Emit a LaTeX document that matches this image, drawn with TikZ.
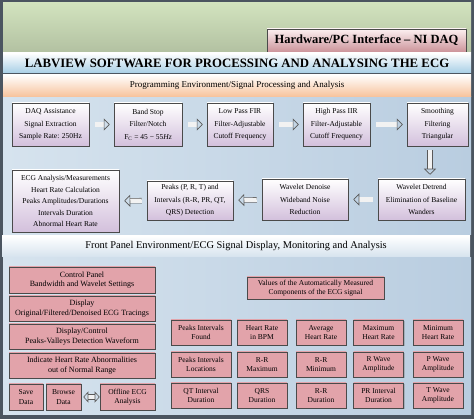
\documentclass[tikz,border=0pt]{standalone}
\usepackage{fontspec}
\setmainfont{Liberation Serif}
\usetikzlibrary{arrows.meta,shadows,calc}
\definecolor{framegray}{HTML}{4B5560}
\definecolor{leafa}{HTML}{D2E3BE}
\definecolor{leafb}{HTML}{EEF4E6}
\definecolor{skyband}{HTML}{A8CFE6}
\definecolor{peach}{HTML}{F7C39C}
\definecolor{steel}{HTML}{D6E3EE}
\definecolor{steeldark}{HTML}{B9CDE0}
\definecolor{lilac}{HTML}{D3C0DC}
\definecolor{rosy}{HTML}{E2A3AA}
\definecolor{rosylight}{HTML}{FCF0F1}
\definecolor{boxline}{HTML}{4A4A4A}
\begin{document}
\begin{tikzpicture}[x=1pt,y=-1pt,
  band/.style={minimum width=468pt,inner sep=0pt,font=\fontsize{9}{11}\selectfont},
  procbox/.style={draw=boxline,line width=0.5pt,top color=white,bottom color=lilac,align=center,inner sep=1pt,
    font=\fontsize{7.5}{12.5}\selectfont,drop shadow={shadow xshift=1.2pt,shadow yshift=-1.2pt,opacity=0.45}},
  pinkbox/.style={draw=boxline,line width=0.6pt,top color=rosy,middle color=rosylight,bottom color=rosy,align=center,inner sep=1pt,
    font=\fontsize{7.5}{9.5}\selectfont,drop shadow={shadow xshift=1pt,shadow yshift=-1pt,opacity=0.4}},
  gridbox/.style={pinkbox,minimum width=50pt,minimum height=25pt},
  flow/.style={draw=gray!70!black,line width=0.6pt,double=gray!10,double distance=4.2pt,
    -{Triangle[open,length=6pt,width=12pt]}},
  twoway/.style={flow,{Triangle[open,length=5pt,width=11pt]}-{Triangle[open,length=5pt,width=11pt]}}]
\useasboundingbox (0,0) rectangle (474,419);
\fill[framegray] (0,0) rectangle (474,419);
\shade[top color=leafa,middle color=leafb,bottom color=leafa!85!black] (3,3) rectangle (471,52);
\shade[left color=steel,right color=steeldark] (3,97) rectangle (471,235);
\shade[left color=steel,right color=steeldark] (3,258) rectangle (471,415);

\node[draw=boxline,line width=0.8pt,top color=rosylight,bottom color=rosy!90!black,minimum width=199pt,minimum height=23pt,inner sep=0pt,
  font=\fontsize{12.5}{14}\selectfont\bfseries] (hw) at (366.5,40.5) {Hardware/PC Interface -- NI DAQ};
\node[band,top color=white,bottom color=skyband,minimum height=20pt,font=\fontsize{12.8}{14}\selectfont\bfseries] (title) at (237,63) {LABVIEW SOFTWARE FOR PROCESSING AND ANALYSING THE ECG};
\node[band,top color=white,bottom color=peach,minimum height=22pt] (prog) at (237,85.5) {Programming Environment/Signal Processing and Analysis};
\node[band,top color=white,bottom color=steel,minimum height=21pt,font=\fontsize{10.4}{12}\selectfont] (front) at (236,246.5) {Front Panel Environment/ECG Signal Display, Monitoring and Analysis};

% processing chain
\node[procbox,minimum width=77pt,minimum height=43pt] (daq) at (50.5,124.5) {DAQ Assistance\\Signal Extraction\\Sample Rate: 250Hz};
\node[procbox,minimum width=68pt,minimum height=43pt] (notch) at (148,124.5) {Band Stop\\Filter/Notch\\F\textsubscript{C} = 45 − 55\textit{Hz}};
\node[procbox,minimum width=66pt,minimum height=43pt] (fir) at (240,124.5) {Low Pass FIR\\Filter-Adjustable\\Cutoff Frequency};
\node[procbox,minimum width=67pt,minimum height=43pt] (iir) at (336.5,124.5) {High Pass IIR\\Filter-Adjustable\\Cutoff Frequency};
\node[procbox,minimum width=61pt,minimum height=43pt] (smooth) at (437.5,124.5) {Smoothing\\Filtering\\Triangular};
\node[procbox,minimum width=87pt,minimum height=41pt] (detrend) at (421.5,199.5) {Wavelet Detrend\\Elimination of Baseline\\Wanders};
\node[procbox,minimum width=86pt,minimum height=41pt] (denoise) at (305,199.5) {Wavelet Denoise\\Wideband Noise\\Reduction};
\node[procbox,minimum width=86pt,minimum height=39pt] (peaks) at (190,200.5) {Peaks (P, R, T) and\\Intervals (R-R, PR, QT,\\QRS) Detection};
\node[procbox,minimum width=107pt,minimum height=62pt,font=\fontsize{7.5}{11.5}\selectfont] (ecg) at (65.5,201) {ECG Analysis/Measurements\\Heart Rate Calculation\\Peaks Amplitudes/Durations\\Intervals Duration\\Abnormal Heart Rate};
\coordinate (drop) at (430,0);

\draw[flow,shorten <=6pt,shorten >=4pt] (daq) -- (notch);
\draw[flow,shorten <=6pt,shorten >=4pt] (notch) -- (fir);
\draw[flow,shorten <=6pt,shorten >=4pt] (fir) -- (iir);
\draw[flow,shorten <=6pt,shorten >=4pt] (iir) -- (smooth);
\draw[flow,shorten <=4pt,shorten >=4pt] (smooth.south -| drop) -- (detrend.north -| drop);
\draw[flow,shorten <=5pt,shorten >=5pt] (detrend) -- (denoise);
\draw[flow,shorten <=5pt,shorten >=5pt] (denoise) -- (peaks);
\draw[flow,shorten <=5pt,shorten >=5pt] (peaks) -- (ecg);

% front panel
\node[pinkbox,minimum width=146pt,minimum height=26pt,font=\fontsize{8}{9.5}\selectfont] (ctrl) at (82,280) {Control Panel\\Bandwidth and Wavelet Settings};
\node[pinkbox,minimum width=146pt,minimum height=25pt,font=\fontsize{8}{9.5}\selectfont] (disp) at (82,308.5) {Display\\Original/Filtered/Denoised ECG Tracings};
\node[pinkbox,minimum width=146pt,minimum height=25pt,font=\fontsize{8}{9.5}\selectfont] (dctrl) at (82,336.5) {Display/Control\\Peaks-Valleys Detection Waveform};
\node[pinkbox,minimum width=146pt,minimum height=25pt,font=\fontsize{8}{9.5}\selectfont] (abn) at (82,365.5) {Indicate Heart Rate Abnormalities\\out of Normal Range};
\node[pinkbox,minimum width=34pt,minimum height=26pt] (save) at (26,397) {Save\\Data};
\node[pinkbox,minimum width=35pt,minimum height=26pt] (browse) at (63.5,397) {Browse\\Data};
\node[pinkbox,minimum width=55pt,minimum height=26pt] (offline) at (127.5,397) {Offline ECG\\Analysis};
\draw[twoway,shorten <=2pt,shorten >=0pt] (browse) -- (offline);

\node[pinkbox,minimum width=137pt,minimum height=22pt] (values) at (315.5,288) {Values of the Automatically Measured\\Components of the ECG signal};

\node[gridbox,minimum width=60pt] (pif) at (201,332.5) {Peaks Intervals\\Found};
\node[gridbox] (bpm) at (262,332.5) {Heart Rate\\in BPM};
\node[gridbox] (avg) at (321,332.5) {Average\\Heart Rate};
\node[gridbox] (max) at (378.5,332.5) {Maximum\\Heart Rate};
\node[gridbox] (min) at (438,332.5) {Minimum\\Heart Rate};
\node[gridbox,minimum width=60pt] (pil) at (201,364.5) {Peaks Intervals\\Locations};
\node[gridbox] (rrmax) at (262,364.5) {R-R\\Maximum};
\node[gridbox] (rrmin) at (321,364.5) {R-R\\Minimum};
\node[gridbox] (ramp) at (378.5,364.5) {R Wave\\Amplitude};
\node[gridbox] (pamp) at (438,364.5) {P Wave\\Amplitude};
\node[gridbox,minimum width=60pt] (qt) at (201,395.5) {QT Interval\\Duration};
\node[gridbox] (qrs) at (262,395.5) {QRS\\Duration};
\node[gridbox] (rr) at (321,395.5) {R-R\\Duration};
\node[gridbox] (pr) at (378.5,395.5) {PR Interval\\Duration};
\node[gridbox] (tamp) at (438,395.5) {T Wave\\Amplitude};
\end{tikzpicture}
\end{document}
